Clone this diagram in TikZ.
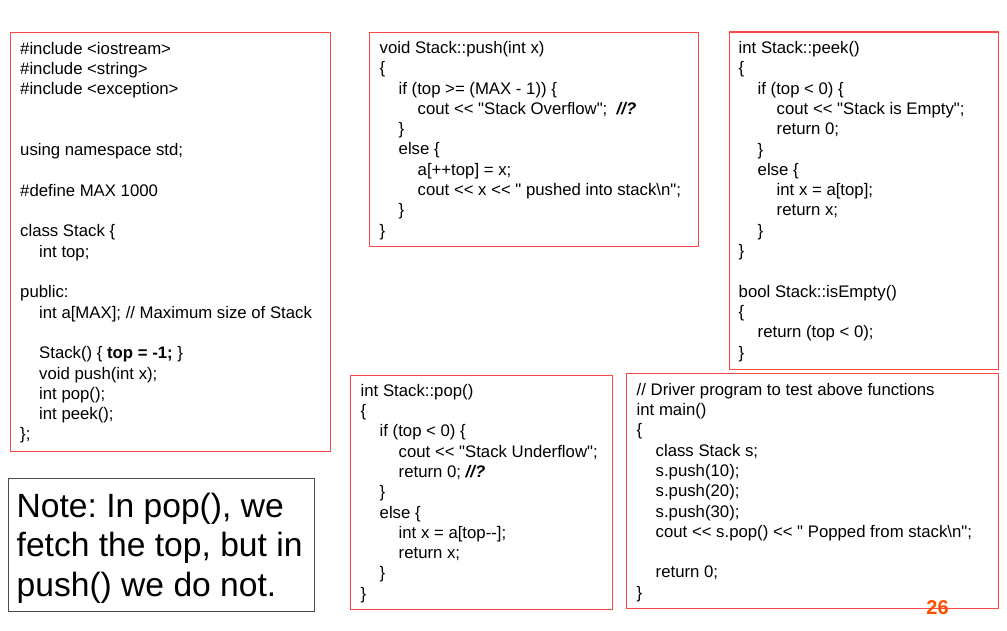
\documentclass[tikz,border=0pt]{standalone}
\usepackage{fontspec}
\setmainfont{Liberation Sans}
\newfontfamily\codefont{Liberation Sans}
\frenchspacing
\definecolor{boxred}{RGB}{250,72,72}
\definecolor{pagered}{RGB}{255,80,0}
\newcommand\indA{\hspace*{19pt}}
\newcommand\indB{\hspace*{38pt}}
\tikzset{
  codebox/.style={draw=boxred, line width=1.2pt, inner sep=0pt, anchor=north west},
  notebox/.style={draw=black!70, line width=1pt, inner sep=0pt, anchor=north west},
  codetext/.style={inner sep=0pt, anchor=north west, yshift=14.21pt, align=left,
    font=\codefont\fontsize{16.75}{20.3}\selectfont},
  notetext/.style={inner sep=0pt, anchor=north west, yshift=27.44pt, align=left,
    font=\fontsize{33.6}{39.2}\selectfont},
}
\begin{document}
\begin{tikzpicture}[x=1pt,y=-1pt]
  \useasboundingbox (0,0) rectangle (1007,631);
  \node[codebox, minimum width=320.5pt, minimum height=419pt] (classbox) at (9.5,32) {};
  \node[codebox, minimum width=328.5pt, minimum height=214pt] (pushbox) at (369,32) {};
  \node[codebox, minimum width=269.5pt, minimum height=337pt] (peekbox) at (728.5,31.5) {};
  \node[codebox, minimum width=261.5pt, minimum height=234pt] (popbox) at (350,374.5) {};
  \node[codebox, minimum width=372pt, minimum height=235pt] (mainbox) at (626,373) {};
  \node[notebox, minimum width=306pt, minimum height=133pt] (notebox) at (7.5,477.5) {};
  \node[codetext] (classcode) at (20,54) {\strut\#include <iostream>\\
    \#include <string>\\
    \#include <exception>\\
    \mbox{}\\
    \mbox{}\\
    using namespace std;\\
    \mbox{}\\
    \#define MAX 1000\\
    \mbox{}\\
    class Stack \{\\
    \indA int top;\\
    \mbox{}\\
    public:\\
    \indA int a[MAX]; // Maximum size of Stack\\
    \mbox{}\\
    \indA Stack() \{ \textbf{top = -1;} \}\\
    \indA void push(int x);\\
    \indA int pop();\\
    \indA int peek();\\
    \};};
  \node[codetext] (pushcode) at (379.5,53.3) {\strut void Stack::push(int x)\\
    \{\\
    \indA if (top >= (MAX - 1)) \{\\
    \indB cout << "Stack Overflow"; \ \textbf{\textit{//?}}\\
    \indA \}\\
    \indA else \{\\
    \indB a[++top] = x;\\
    \indB cout << x << " pushed into stack\textbackslash n";\\
    \indA \}\\
    \}};
  \node[codetext] (peekcode) at (738.5,53.3) {\strut int Stack::peek()\\
    \{\\
    \indA if (top < 0) \{\\
    \indB cout << "Stack is Empty";\\
    \indB return 0;\\
    \indA \}\\
    \indA else \{\\
    \indB int x = a[top];\\
    \indB return x;\\
    \indA \}\\
    \}\\
    \mbox{}\\
    bool Stack::isEmpty()\\
    \{\\
    \indA return (top < 0);\\
    \}};
  \node[codetext] (popcode) at (360.5,396) {\strut int Stack::pop()\\
    \{\\
    \indA if (top < 0) \{\\
    \indB cout << "Stack Underflow";\\
    \indB return 0; \textbf{\textit{//?}}\\
    \indA \}\\
    \indA else \{\\
    \indB int x = a[top--];\\
    \indB return x;\\
    \indA \}\\
    \}};
  \node[codetext] (maincode) at (636.5,395) {\strut // Driver program to test above functions\\
    int main()\\
    \{\\
    \indA class Stack s;\\
    \indA s.push(10);\\
    \indA s.push(20);\\
    \indA s.push(30);\\
    \indA cout << s.pop() << " Popped from stack\textbackslash n";\\
    \mbox{}\\
    \indA return 0;\\
    \}};
  \node[notetext] (note) at (16.5,517.5) {\strut Note: In pop(), we\\
    fetch the top, but in\\
    push() we do not.};
  \node[anchor=base, inner sep=0pt, text=pagered, font=\bfseries\fontsize{20}{24}\selectfont] (pagenum) at (937.5,614) {26};
\end{tikzpicture}
\end{document}
